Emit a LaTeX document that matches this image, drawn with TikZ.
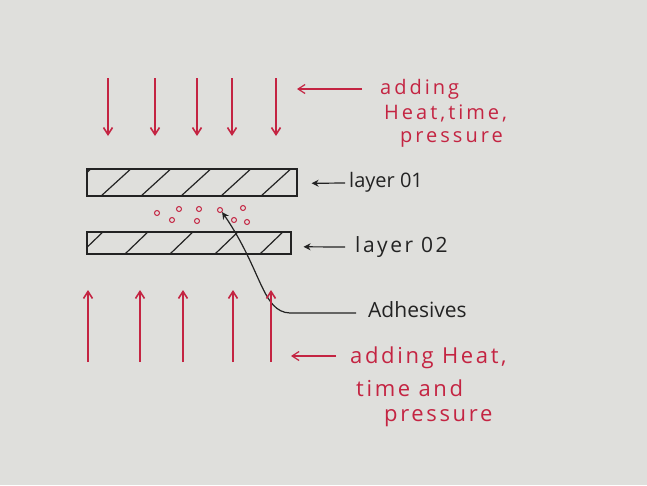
\documentclass[tikz,border=0pt]{standalone}
\usepackage{fontspec}
\setmainfont{Open Sans}
\usetikzlibrary{arrows.meta,calc}
\definecolor{paper}{RGB}{223,223,220}
\definecolor{ink}{RGB}{196,36,66}
\definecolor{pen}{RGB}{35,35,35}
\begin{document}
\begin{tikzpicture}[x=1pt,y=-1pt,
  redarrow/.style={ink,line width=1.6pt,-{Straight Barb[length=7pt,width=9pt]}},
  redtext/.style={ink,font=\fontsize{22}{24}\selectfont\addfontfeature{LetterSpace=12},anchor=west,inner sep=0pt},
  smallred/.style={redtext,font=\fontsize{20}{22}\selectfont\addfontfeature{LetterSpace=15}},
  blacktext/.style={pen,font=\fontsize{20}{24}\selectfont,anchor=west,inner sep=0pt},
  blackarrow/.style={pen,line width=1.2pt,-{Stealth[length=7pt,width=7pt]}},
  layerbox/.style={draw=pen,line width=1.6pt,inner sep=0pt},
  dot/.style={circle,draw=ink,line width=1pt,minimum size=5pt,inner sep=0pt}]
\fill[paper] (0,0) rectangle (647,485);
\useasboundingbox (0,0) rectangle (647,485);

% top arrows (down)
\foreach \i/\x in {1/108,2/155,3/197,4/232,5/276}{
  \coordinate (ts\i) at (\x,78);
  \coordinate (te\i) at (\x,136);
  \draw[redarrow] (ts\i) -- (te\i);
}
% top label
\node[smallred] (ta) at (380,89) {adding};
\node[smallred] (tb) at (384,113) {Heat,time,};
\node[smallred] (tc) at (400,139) {pressure};
\coordinate (tstart) at (362,89);
\coordinate (tend) at (297,89);
\draw[redarrow,line width=1.2pt] (tstart) -- (tend);

% layer 01
\node[layerbox,minimum width=210pt,minimum height=27pt,anchor=north west] (l1) at (86,168) {};
\begin{scope}
\clip (l1.south west) rectangle (l1.north east);
\foreach \x in {60,100,...,340}{
  \draw[pen,line width=1.2pt] (\x,197) -- ++(34,-31);
}
\end{scope}
\node[blacktext] (l1t) at (349,182) {layer 01};
\draw[blackarrow] ($(l1t.west)+(-4,1)$) -- ($(l1.east)+(14,1)$);

% adhesive dots
\foreach \i/\x/\y in {1/157/213,2/179/209,3/199/209,4/220/210,5/243/208,6/172/220,7/197/221,8/234/220,9/247/222}{
  \node[dot] (d\i) at (\x,\y) {};
}

% layer 02
\node[layerbox,minimum width=204pt,minimum height=22pt,anchor=north west] (l2) at (86,231) {};
\begin{scope}
\clip (l2.south west) rectangle (l2.north east);
\foreach \x in {80,125,...,330}{
  \draw[pen,line width=1.2pt] (\x,254) -- ++(26,-25);
}
\end{scope}
\node[blacktext,font=\fontsize{21}{24}\selectfont\addfontfeature{LetterSpace=12}] (l2t) at (355,247) {layer 02};
\draw[blackarrow] ($(l2t.west)+(-10,0)$) -- ($(l2.east)+(12,4)$);

% adhesives
\node[blacktext,font=\fontsize{21}{24}\selectfont] (adh) at (368,310) {Adhesives};
\coordinate (ac) at (290,313);
\draw[blackarrow] ($(adh.west)+(-12,3)$) -- (ac) .. controls (262,312) and (262,270) .. (d4.south east);

% bottom arrows (up)
\foreach \i/\x in {1/88,2/140,3/183,4/233,5/271}{
  \coordinate (bs\i) at (\x,362);
  \coordinate (be\i) at (\x,290);
  \draw[redarrow] (bs\i) -- (be\i);
}
\node[redtext] (ba) at (350,358) {adding Heat,};
\node[redtext] (bb) at (356,388) {time and};
\node[redtext] (bc) at (384,418) {pressure};
\coordinate (bstart) at (336,356);
\coordinate (bend) at (291,356);
\draw[redarrow,line width=1.2pt] (bstart) -- (bend);
\end{tikzpicture}
\end{document}
